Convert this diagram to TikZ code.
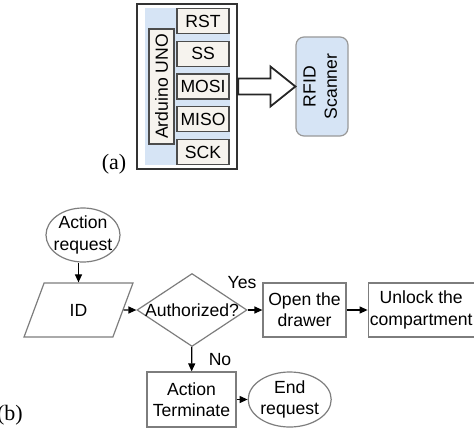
\documentclass[tikz,border=0pt]{standalone}
\usepackage{fontspec}
\setmainfont{Liberation Sans}
\newfontfamily\capfont{Liberation Serif}
\usetikzlibrary{positioning, shapes.geometric, arrows.meta}
\definecolor{chipblue}{RGB}{214,228,245}
\definecolor{pinfill}{RGB}{246,243,238}
\definecolor{edgegray}{RGB}{125,125,125}
\newcommand{\flowfont}{\fontsize{8.8}{10.6}\selectfont}
\tikzset{board/.style = {draw=black!80, line width=1.1pt, fill=white, minimum width=50pt, minimum height=82.5pt}}
\tikzset{backing/.style = {fill=chipblue, minimum width=42.5pt, minimum height=78.5pt}}
\tikzset{chip/.style = {draw=black!70, fill=pinfill, minimum width=12.5pt, minimum height=57.5pt, inner sep=0pt}}
\tikzset{pinbox/.style = {draw=black!70, fill=pinfill, minimum width=26pt, minimum height=12.5pt, inner sep=0pt}}
\tikzset{scanner/.style = {draw=black!40, fill=chipblue, rounded corners=4pt, minimum width=26pt, minimum height=49.5pt, inner sep=0pt}}
\tikzset{hollow/.style = {draw=black!85, fill=white, line width=0.9pt, line join=miter}}
\tikzset{terminal/.style = {draw=edgegray, ellipse, minimum width=37pt, minimum height=27pt, inner sep=-2.5pt, align=center}}
\tikzset{process/.style = {draw=edgegray, rectangle, minimum height=27pt, inner sep=1pt, align=center}}
\tikzset{io/.style = {draw=edgegray, trapezium, trapezium left angle=67, trapezium right angle=113, trapezium stretches=true, minimum width=54.5pt, minimum height=27pt, inner sep=0pt}}
\tikzset{decision/.style = {draw=edgegray, diamond, minimum width=55pt, minimum height=36.5pt, inner sep=0pt}}
\tikzset{caption/.style = {font=\capfont\fontsize{11}{13}\selectfont}}

\begin{document}
\begin{tikzpicture}[>={Triangle[length=4pt, width=3.5pt]}, semithick, x=0.5pt, y=-0.5pt, font=\flowfont]
  \useasboundingbox (0,0) rectangle (474,443);

  % (a) wiring
  \node [board] (board) at (187,86.5) {};
  \node [backing] (back) at (187.5,86.5) {};
  \node [chip] (uno) at (161.5,86.5) {\rotatebox{90}{Arduino UNO}};
  \foreach \pinname/\pintext [count=\i from 0] in {rst/RST, ss/SS, mosi/MOSI, miso/MISO, sck/SCK}
    \node [pinbox] (\pinname) at (203,21+32.75*\i) {\pintext};
  \node [scanner] (rfid) at (322,86.5) {\rotatebox{90}{\begin{tabular}{@{}c@{}}RFID\\Scanner\end{tabular}}};
  \draw [hollow] ([yshift=4pt]board.east) -- ([xshift=-12.5pt, yshift=4pt]rfid.west)
    -- ([xshift=-12.5pt, yshift=10pt]rfid.west) -- (rfid.west)
    -- ([xshift=-12.5pt, yshift=-10pt]rfid.west) -- ([xshift=-12.5pt, yshift=-4pt]rfid.west)
    -- ([yshift=-4pt]board.east) -- cycle;
  \node [caption] (capa) at (114,164) {(a)};

  % (b) flow
  \node [terminal] (start) at (83,235) {Action\\request};
  \node [io] (id) at (78.5,310) {ID};
  \node [decision, label={center:Authorized?}] (auth) at (192,310) {};
  \node [process, minimum width=41.5pt] (open) at (304.5,310) {Open the\\drawer};
  \node [process, minimum width=53pt, inner sep=0pt, right=10.5pt of open] (unlock) {Unlock the\\compartment};
  \node [process, minimum width=44.5pt, minimum height=27.5pt] (stop) at (191.5,399.5) {Action\\Terminate};
  \node [terminal, minimum width=41.5pt, minimum height=27.5pt, right=5.5pt of stop] (finish) {End\\request};
  \node (yes) at (242,283) {Yes};
  \node (no) at (220,360) {No};
  \node [caption] (capb) at (10,415) {(b)};

  \draw [->] (id.north |- start.south) -- (id.north);
  \draw [->] (id) -- (auth);
  \draw [->] (auth) -- (open);
  \draw [->] (open) -- (unlock);
  \draw [->] (auth) -- (stop);
  \draw [->] (stop) -- (finish);
\end{tikzpicture}
\end{document}
